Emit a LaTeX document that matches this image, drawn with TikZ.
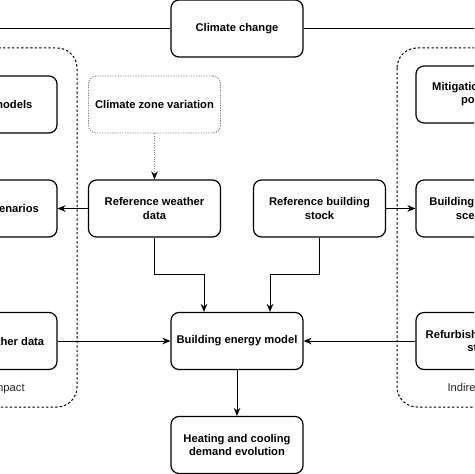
\documentclass[tikz,border=0pt]{standalone}
\usepackage{fontspec}
\setmainfont{Liberation Sans}
\usetikzlibrary{arrows.meta}

\begin{document}
\begin{tikzpicture}[x=0.75pt, y=-0.75pt,
	box/.style={draw, line width=0.9pt, rounded corners=6pt, align=center,
		minimum width=99pt, minimum height=42.75pt, inner sep=2pt,
		font=\fontsize{8.4}{9.8}\selectfont\bfseries},
	dotbox/.style={box, draw=gray, densely dotted, line width=0.7pt},
	group/.style={draw, line width=0.75pt, dash pattern=on 1.8pt off 1.6pt, rounded corners=15pt},
	grouplabel/.style={font=\fontsize{8.4}{9.8}\selectfont, text=black!85},
	arr/.style={line width=0.75pt, -{Stealth[length=6pt, width=5pt]}},
	link/.style={line width=0.75pt}]
	\useasboundingbox (0,0) rectangle (474,474);
	\clip (0,0) rectangle (474,474);
	% impact groups
	\draw[group] (-95,48) rectangle (77,407);
	\draw[group] (397,48) rectangle (569,407);
	\node[grouplabel] (dimp) at (-8,389) {Direct impact};
	\node[grouplabel] (iimp) at (484,389) {Indirect impact};
	% main chain
	\node[box] (clim) at (237,28.5) {Climate change};
	\node[dotbox] (czv) at (154.5,104.5) {Climate zone variation};
	\node[box] (rwd) at (154.5,208.5) {Reference weather\\data};
	\node[box] (rbs) at (319.5,208.5) {Reference building\\stock};
	\node[box] (bem) at (237,341) {Building energy model};
	\node[box] (hcd) at (237,445) {Heating and cooling\\demand evolution};
	% direct impact
	\node[box] (cmod) at (-9,104.5) {Climate models};
	\node[box] (cscen) at (-9,208.5) {Climate scenarios};
	\node[box] (fwd) at (-9,341) {Future weather data};
	% indirect impact
	\node[box] (mit) at (482,94.5) {Mitigation strategy\\policies};
	\node[box] (bscen) at (482,208.5) {Building renovation\\scenarios};
	\node[box] (refurb) at (482,341) {Refurbishment of the\\stock};
	% connectors
	\coordinate (cl) at (-20,28.5);
	\coordinate (cr) at (494,28.5);
	\coordinate (j1) at (204,274);
	\coordinate (j2) at (270,274);
	\draw[link] (cl) -- (clim.west);
	\draw[link] (clim.east) -- (cr);
	\draw[line width=0.75pt, draw=gray, densely dotted, -{Stealth[length=6pt, width=5pt, color=black]}] (czv.south) -- (rwd.north);
	\draw[arr] (rwd.west) -- (cscen.east);
	\draw[arr] (rbs.east) -- (bscen.west);
	\draw[arr] (rwd.south) |- (j1) -- (j1 |- bem.north);
	\draw[arr] (rbs.south) |- (j2) -- (j2 |- bem.north);
	\draw[arr] (fwd.east) -- (bem.west);
	\draw[arr] (refurb.west) -- (bem.east);
	\draw[arr] (bem.south) -- (hcd.north);
\end{tikzpicture}
\end{document}
